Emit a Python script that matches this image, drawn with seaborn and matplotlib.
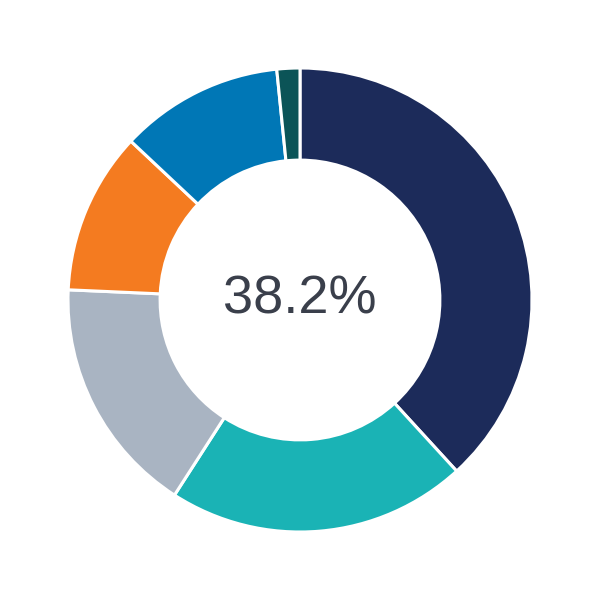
import matplotlib
matplotlib.use("Agg")
import matplotlib.pyplot as plt
import seaborn as sns

categories = ["A", "B", "C", "D", "E", "F"]
values = [38.2, 20.9, 16.6, 11.3, 11.4, 1.6]
colors = ["#1c2b5a", "#1ab3b5", "#a9b4c2", "#f47b20", "#0077b6", "#0b5457"]
center_label = "38.2%"

sns.set_theme(style="white")
plt.rcParams['font.family'] = ['Liberation Sans', 'DejaVu Sans']

fig = plt.figure(figsize=(6, 6), dpi=100)
ax = fig.add_axes([0, 0, 1, 1])
palette = sns.color_palette(colors)
ax.pie(values, colors=palette, startangle=90, counterclock=False,
       radius=1.0,
       wedgeprops=dict(width=0.397, edgecolor="white", linewidth=2.2))
lim = 300 / 232
ax.set_xlim(-lim, lim)
ax.set_ylim(-lim, lim)
ax.set_aspect("equal")
ax.axis("off")
ax.text(0, 0.0, center_label, ha="center", va="center", fontsize=39,
        color="#3a3f4b")
fig.savefig("out.png", dpi=100)
